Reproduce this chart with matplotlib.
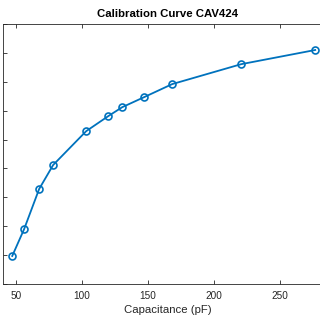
import matplotlib
matplotlib.use("Agg")
import matplotlib.pyplot as plt

# values
capacitance = [47, 56, 67.4, 78, 103, 119.7, 130.3, 147, 168.2, 220.5, 276.5]
output = [0.97, 1.9, 3.29, 4.12, 5.29, 5.81, 6.12, 6.47, 6.92, 7.61, 8.1]
x_ticks = [50, 100, 150, 200, 250]
y_ticks = list(range(0, 10))

plt.rcParams["font.family"] = ["Liberation Sans", "DejaVu Sans"]
axis_col = "#262626"

fig = plt.figure(figsize=(3.2, 3.2), dpi=100)
# the reference is cropped: the axes run past the right edge of the image
ax = fig.add_axes([3 / 320, 36 / 320, 330 / 320, 260 / 320])

ax.plot(capacitance, output, color="#0072BD", linewidth=1.3,
        marker="o", markersize=5, markerfacecolor="none", markeredgewidth=1.2)

ax.set_xlim(40, 290)
ax.set_ylim(0, 9)
ax.set_xticks(x_ticks)
ax.set_yticks(y_ticks)
ax.set_yticklabels([])
ax.tick_params(direction="in", length=3, width=0.6, colors=axis_col,
               labelsize=7.2, top=True, right=True, pad=5)
for s in ax.spines.values():
    s.set_color(axis_col)
    s.set_linewidth(0.6)

ax.set_title("Calibration Curve CAV424", fontsize=8.2, fontweight="bold", pad=5)
ax.set_xlabel("Capacitance (pF)", fontsize=8.2, color=axis_col, labelpad=3)

fig.savefig("out.png", dpi=100)
